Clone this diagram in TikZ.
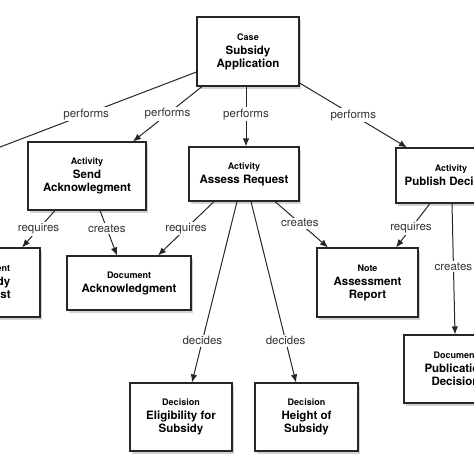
\documentclass[tikz,border=0pt]{standalone}
\usepackage{fontspec}
\setmainfont{TeX Gyre Heros}
\usetikzlibrary{arrows.meta,shadows}
\tikzset{
  box/.style={draw=black!85, line width=1.1pt, fill=white, align=center,
    inner sep=2pt, font=\bfseries\fontsize{11.5}{13}\selectfont,
    drop shadow={shadow xshift=1.5pt, shadow yshift=-2.5pt, opacity=0.35}},
  conn/.style={draw=black!85, line width=1pt, -{Latex[length=8pt,width=6.5pt]}},
  lbl/.style={fill=white, inner sep=1.5pt, text=black!80, font=\fontsize{11.5}{13}\selectfont},
}
\newcommand{\ty}[1]{{\fontsize{9}{10}\selectfont #1}\\[1pt]}
\begin{document}
\begin{tikzpicture}[x=1pt,y=-1pt]
\useasboundingbox (0,0) rectangle (474,474);
\clip (0,0) rectangle (474,474);
\node[box, minimum width=102pt, minimum height=69pt] (case) at (248,51.5) {\ty{Case}Subsidy\\Application};
\node[box, minimum width=118pt, minimum height=68pt] (send) at (87,176) {\ty{Activity}Send\\Acknowlegment};
\node[box, minimum width=110pt, minimum height=54pt] (assess) at (244,174) {\ty{Activity}Assess Request};
\node[box, minimum width=110pt, minimum height=55pt] (publish) at (451,175.5) {\ty{Activity}Publish Decision};
\node[box, minimum width=104pt, minimum height=69pt] (subreq) at (-12,282.5) {\ty{Document}Subsidy\\Request};
\node[box, minimum width=124pt, minimum height=54pt] (ack) at (129,283) {\ty{Document}Acknowledgment};
\node[box, minimum width=101pt, minimum height=69pt] (report) at (367.5,282.5) {\ty{Note}Assessment\\Report};
\node[box, minimum width=103pt, minimum height=68pt] (pubdoc) at (455.5,369) {\ty{Document}Publication\\Decision};
\node[box, minimum width=102pt, minimum height=68pt] (elig) at (181,417) {\ty{Decision}Eligibility for\\Subsidy};
\node[box, minimum width=103pt, minimum height=68pt] (height) at (306.5,417) {\ty{Decision}Height of\\Subsidy};
\coordinate (offl) at (-60,170);

\draw[conn] ([yshift=-20.5pt]case.west) -- node[lbl, pos=0.43] {performs} (offl);
\draw[conn] ([xshift=-46pt]case.south) -- node[lbl, pos=0.5] {performs} ([xshift=46pt]send.north);
\draw[conn] ([xshift=-2pt]case.south) -- node[lbl, pos=0.46] {performs} ([xshift=2pt]assess.north);
\draw[conn] ([yshift=-31.5pt]case.east) -- node[lbl, pos=0.5] {performs} ([xshift=-44pt]publish.north);
\draw[conn] ([xshift=-32pt]send.south) -- node[lbl, pos=0.5] {requires} ([xshift=34pt]subreq.north);
\draw[conn] ([xshift=13pt]send.south) -- node[lbl, pos=0.4] {creates} ([xshift=-12pt]ack.north);
\draw[conn] ([xshift=-30pt]assess.south) -- node[lbl, pos=0.5] {requires} ([xshift=29pt]ack.north);
\draw[conn] ([xshift=31pt]assess.south) -- node[lbl, pos=0.47] {creates} ([xshift=-39.5pt]report.north);
\draw[conn] ([xshift=-21pt]publish.south) -- node[lbl, pos=0.56] {requires} ([xshift=28.5pt]report.north);
\draw[conn] ([xshift=1pt]publish.south) -- node[lbl, pos=0.48] {creates} ([xshift=-0.5pt]pubdoc.north);
\draw[conn] ([xshift=-7pt]assess.south) -- node[lbl, pos=0.77] {decides} ([xshift=11pt]elig.north);
\draw[conn] ([xshift=7pt]assess.south) -- node[lbl, pos=0.77] {decides} ([xshift=-10.5pt]height.north);
\end{tikzpicture}
\end{document}
